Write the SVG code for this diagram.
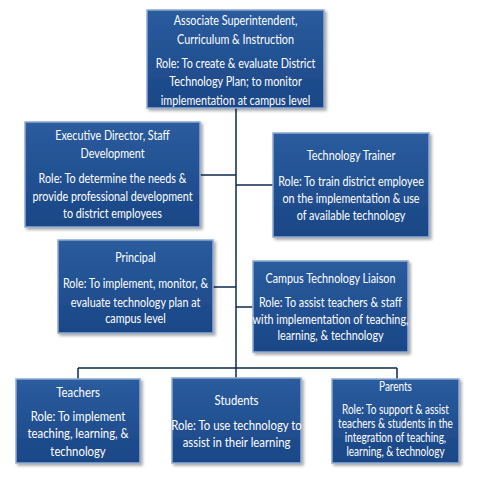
<svg xmlns="http://www.w3.org/2000/svg" width="480" height="480" viewBox="0 0 480 480">
<defs>
<linearGradient id="g" x1="0" y1="0" x2="0" y2="1">
<stop offset="0" stop-color="#2a5c9e"/>
<stop offset="1" stop-color="#1b4686"/>
</linearGradient>
<filter id="sh" x="-10%" y="-10%" width="130%" height="130%">
<feDropShadow dx="2" dy="2" stdDeviation="1.5" flood-color="#000" flood-opacity="0.35"/>
</filter>
</defs>
<style>
.box{fill:url(#g);stroke:#8eaad4;stroke-width:1.5;filter:url(#sh)}
.t{font-family:Lato,"Open Sans",sans-serif;font-size:13.5px;fill:#fff;text-anchor:middle;transform-box:fill-box;transform-origin:center;transform:scaleX(.8)}
.s{font-size:12.5px}
.b{font-size:14.2px}
.c{fill:none;stroke:#0d2a52;stroke-width:1.5}
</style>
<rect width="480" height="480" fill="#fff"/>
<g id="connectors">
<path class="c" d="M236 108V378M200 175H236M236 185H273M213 287H236M236 307H253M78 368H397M78 368V379M397 368V379"/>
</g>
<g id="n1">
<rect class="box" x="147" y="10" width="177" height="98"/>
<text class="t" x="235.5" y="25">Associate Superintendent,</text>
<text class="t" x="235.5" y="44">Curriculum &amp; Instruction</text>
<text class="t" x="235.5" y="68">Role: To create &amp; evaluate District</text>
<text class="t" x="235.5" y="86">Technology Plan; to monitor</text>
<text class="t" x="235.5" y="105">implementation at campus level</text>
</g>
<g id="n2">
<rect class="box" x="25" y="122" width="175" height="105"/>
<text class="t" x="112.5" y="140">Executive Director, Staff</text>
<text class="t" x="112.5" y="158">Development</text>
<text class="t" x="112.5" y="183">Role: To determine the needs &amp;</text>
<text class="t" x="112.5" y="201">provide professional development</text>
<text class="t" x="112.5" y="218">to district employees</text>
</g>
<g id="n3">
<rect class="box" x="273" y="133" width="156" height="104"/>
<text class="t" x="351" y="160">Technology Trainer</text>
<text class="t" x="351" y="186">Role: To train district employee</text>
<text class="t" x="351" y="203">on the implementation &amp; use</text>
<text class="t" x="351" y="220">of available technology</text>
</g>
<g id="n4">
<rect class="box" x="58" y="240" width="155" height="93"/>
<text class="t" x="135.5" y="262">Principal</text>
<text class="t" x="135.5" y="288">Role: To implement, monitor, &amp;</text>
<text class="t" x="135.5" y="307">evaluate technology plan at</text>
<text class="t" x="135.5" y="323">campus level</text>
</g>
<g id="n5">
<rect class="box" x="253" y="261" width="155" height="91"/>
<text class="t" x="330.5" y="283">Campus Technology Liaison</text>
<text class="t" x="330.5" y="307">Role: To assist teachers &amp; staff</text>
<text class="t" x="330.5" y="324">with implementation of teaching,</text>
<text class="t" x="330.5" y="340">learning, &amp; technology</text>
</g>
<g id="n6">
<rect class="box" x="16" y="379" width="124" height="84"/>
<text class="t b" x="78" y="397">Teachers</text>
<text class="t b" x="78" y="421">Role: To implement</text>
<text class="t b" x="78" y="438">teaching, learning, &amp;</text>
<text class="t b" x="78" y="456">technology</text>
</g>
<g id="n7">
<rect class="box" x="172" y="378" width="129" height="85"/>
<text class="t b" x="236.5" y="405">Students</text>
<text class="t b" x="236.5" y="430">Role: To use technology to</text>
<text class="t b" x="236.5" y="447">assist in their learning</text>
</g>
<g id="n8">
<rect class="box" x="332" y="379" width="127" height="84"/>
<text class="t s" x="395.5" y="391">Parents</text>
<text class="t s" x="395.5" y="414">Role: To support &amp; assist</text>
<text class="t s" x="395.5" y="428">teachers &amp; students in the</text>
<text class="t s" x="395.5" y="442">integration of teaching,</text>
<text class="t s" x="395.5" y="456">learning, &amp; technology</text>
</g>
</svg>
